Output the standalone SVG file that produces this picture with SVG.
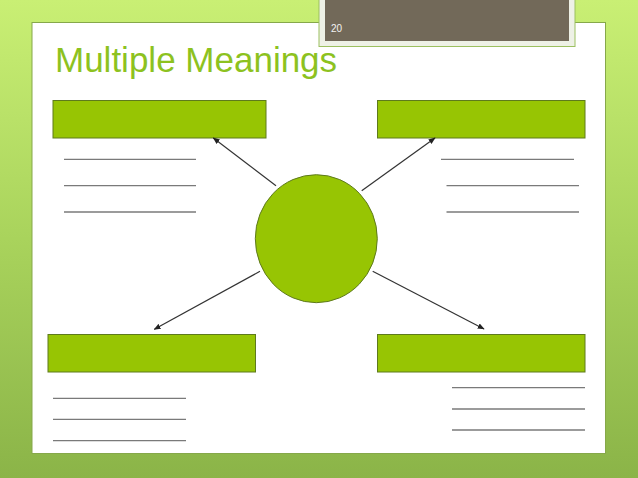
<svg xmlns="http://www.w3.org/2000/svg" width="638" height="478" viewBox="0 0 638 478">
<defs>
<linearGradient id="bg" x1="0" y1="0" x2="0" y2="1">
<stop offset="0" stop-color="#c9ef74"/>
<stop offset="0.5" stop-color="#a9d35c"/>
<stop offset="1" stop-color="#8bb448"/>
</linearGradient>
<marker id="ah" viewBox="0 0 10 10" refX="9" refY="5" markerWidth="7" markerHeight="7" orient="auto" markerUnits="userSpaceOnUse">
<path d="M0,1 L10,5 L0,9 Z" fill="#222"/>
</marker>
</defs>
<style>
.box{fill:#97c503;stroke:#5e7a1c;stroke-width:1}
.rule{stroke:#7a7a7a;stroke-width:1.3}
.conn{stroke:#333;stroke-width:1.2;fill:none;marker-end:url(#ah)}
</style>
<rect x="0" y="0" width="638" height="478" fill="url(#bg)"/>
<rect x="32" y="22.5" width="573.5" height="431" fill="#ffffff" stroke="#86a84a" stroke-width="1"/>
<g id="slide-number">
<rect x="319" y="-5" width="256" height="51.5" fill="#eef1e6" stroke="#9cc060" stroke-width="1"/>
<rect x="325" y="-5" width="244" height="46" fill="#726959"/>
<text x="331" y="32" font-family="Liberation Sans, Arial, sans-serif" font-size="10" fill="#f2f2f2">20</text>
</g>
<text id="title" x="55" y="72" font-family="Liberation Sans, Arial, sans-serif" font-size="35" fill="#8dc21f">Multiple Meanings</text>
<g id="center"><ellipse class="box" cx="316.3" cy="238.7" rx="61" ry="64"/></g>
<g id="top-left">
<rect class="box" x="53" y="100.5" width="213" height="37.5"/>
<line class="rule" x1="64" y1="159.3" x2="196" y2="159.3"/>
<line class="rule" x1="64" y1="185.7" x2="196" y2="185.7"/>
<line class="rule" x1="64" y1="212" x2="196" y2="212"/>
</g>
<g id="top-right">
<rect class="box" x="377.5" y="100.5" width="207.5" height="37.5"/>
<line class="rule" x1="441" y1="159.3" x2="574" y2="159.3"/>
<line class="rule" x1="446.5" y1="185.7" x2="579" y2="185.7"/>
<line class="rule" x1="446.5" y1="212" x2="579" y2="212"/>
</g>
<g id="bottom-left">
<rect class="box" x="48" y="334.5" width="207.5" height="37.5"/>
<line class="rule" x1="53" y1="398.3" x2="186" y2="398.3"/>
<line class="rule" x1="53" y1="419.3" x2="186" y2="419.3"/>
<line class="rule" x1="53" y1="440.7" x2="186" y2="440.7"/>
</g>
<g id="bottom-right">
<rect class="box" x="377.5" y="334.5" width="207.5" height="37.5"/>
<line class="rule" x1="452" y1="387.7" x2="585" y2="387.7"/>
<line class="rule" x1="452" y1="409" x2="585" y2="409"/>
<line class="rule" x1="452" y1="430" x2="585" y2="430"/>
</g>
<g id="connectors">
<line class="conn" x1="276" y1="185.7" x2="213.3" y2="138"/>
<line class="conn" x1="361.7" y1="190.7" x2="435" y2="138"/>
<line class="conn" x1="260" y1="271.3" x2="154.3" y2="329.3"/>
<line class="conn" x1="372.7" y1="271.3" x2="484" y2="329"/>
</g>
</svg>
